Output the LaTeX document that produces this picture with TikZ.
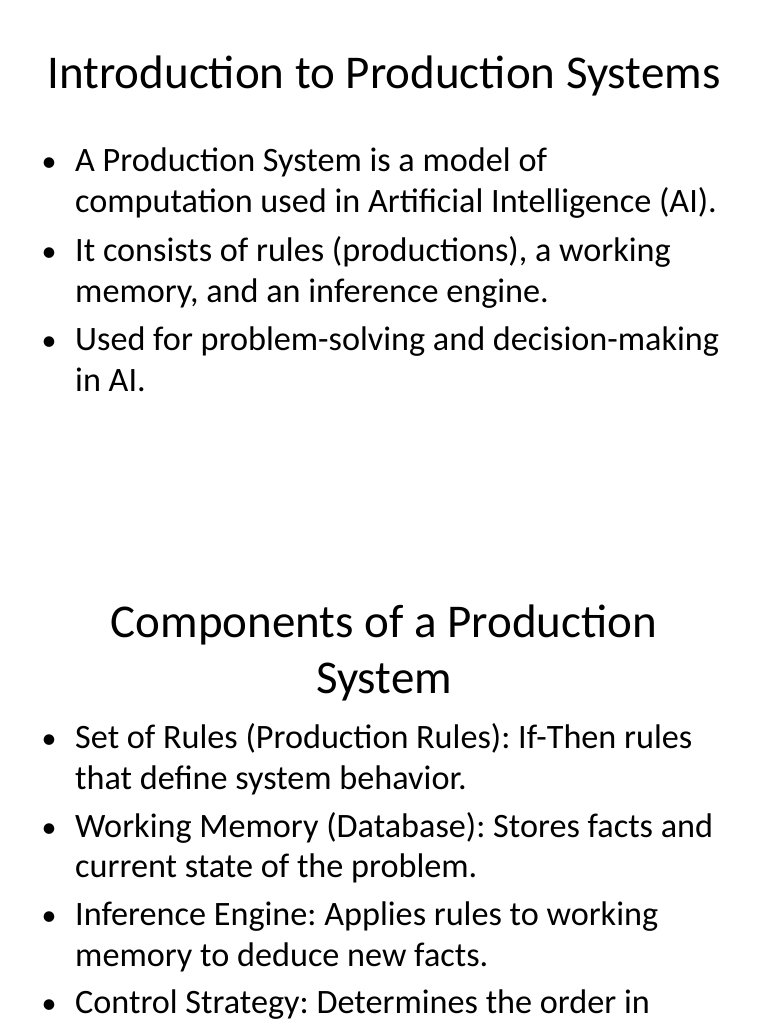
\documentclass[tikz,border=0pt]{standalone}
\usepackage{fontspec}
\setmainfont{Carlito}
\frenchspacing
\begin{document}
\begin{tikzpicture}[x=1pt,y=-1pt,
    every node/.style={inner sep=0pt},
    title/.style={anchor=base, font=\fontsize{47}{56}\selectfont},
    line/.style={anchor=base west, font=\fontsize{34.2}{40}\selectfont},
    dot/.style={anchor=base, font=\fontsize{30}{38}\selectfont}
]
    \useasboundingbox[fill=white] (0,0) rectangle (768,1024);
    % First slide
    \node[title] (t1) at (384,89) {Introduction to Production Systems};
    \foreach \y/\txt [count=\i] in {
        172/{A Production System is a model of},
        213/{computation used in Artificial Intelligence (AI).},
        261/{It consists of rules (productions), a working},
        302/{memory, and an inference engine.},
        350/{Used for problem-solving and decision-making},
        391/{in AI.}}
        \node[line] (a\i) at (75,\y) {\txt};
    \foreach \y [count=\i] in {172,261,350}
        \node[dot] (ad\i) at (49,\y) {•};
    % Second slide
    \node[title] (t2a) at (384,637) {Components of a Production};
    \node[title] (t2b) at (384,693) {System};
    \foreach \y/\txt [count=\i] in {
        748/{Set of Rules (Production Rules): If-Then rules},
        789/{that define system behavior.},
        837/{Working Memory (Database): Stores facts and},
        877/{current state of the problem.},
        925/{Inference Engine: Applies rules to working},
        966/{memory to deduce new facts.},
        1013/{Control Strategy: Determines the order in}}
        \node[line] (b\i) at (75,\y) {\txt};
    \foreach \y [count=\i] in {748,837,925,1013}
        \node[dot] (bd\i) at (49,\y) {•};
\end{tikzpicture}
\end{document}
